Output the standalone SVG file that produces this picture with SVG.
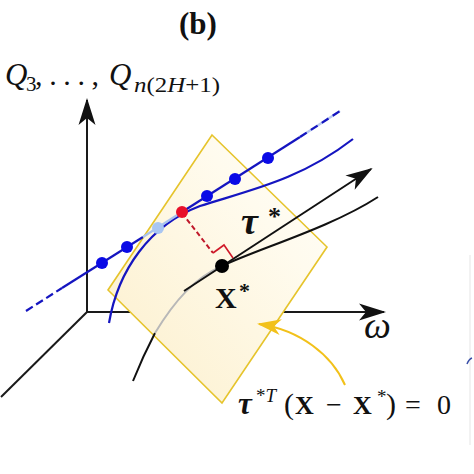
<svg xmlns="http://www.w3.org/2000/svg" width="474" height="474" viewBox="0 0 474 474">
<defs>
<linearGradient id="planeGrad" x1="1" y1="0" x2="0" y2="1">
<stop offset="0" stop-color="#fffefa"/>
<stop offset="0.3" stop-color="#fffbee"/>
<stop offset="1" stop-color="#fcefcb"/>
</linearGradient>
<marker id="arrBlack" markerUnits="userSpaceOnUse" markerWidth="40" markerHeight="30" viewBox="-30 -15 40 30" refX="0" refY="0" orient="auto">
<path d="M2,0 L-25,-8.5 L-18,0 L-25,8.5 Z" fill="#111"/>
</marker>
<marker id="arrYellow" markerUnits="userSpaceOnUse" markerWidth="40" markerHeight="30" viewBox="-30 -15 40 30" refX="0" refY="0" orient="auto">
<path d="M2,0 L-22,-8 L-15,0 L-22,8 Z" fill="#f2c11a"/>
</marker>
</defs>
<style>
.ax{stroke:#1a1a1a;stroke-width:2;fill:none}
.blue{stroke:#1515c0;stroke-width:2.2;fill:none}
.txt{font-family:"Liberation Serif","DejaVu Serif",serif;fill:#111}
</style>
<rect width="474" height="474" fill="#fff"/>
<g id="title"><text class="txt" x="198" y="34" font-size="31" font-weight="bold" text-anchor="middle">(b)</text></g>
<g id="axes">
<line class="ax" x1="87" y1="312" x2="87" y2="100" marker-end="url(#arrBlack)"/>
<line class="ax" x1="87" y1="312" x2="1" y2="397"/>
<line class="ax" x1="87" y1="312" x2="384" y2="312" marker-end="url(#arrBlack)"/>
</g>
<g id="plane">
<polygon points="212,135 327,247 222,403 108,290" fill="url(#planeGrad)" stroke="#e6c42c" stroke-width="1.6"/>
</g>
<g id="axis-labels">
<text class="txt" x="5" y="85" font-size="31" font-style="italic">Q</text>
<text class="txt" x="26" y="91" font-size="21">3</text>
<text class="txt" x="35" y="85" font-size="30" textLength="64" lengthAdjust="spacing">, . . . ,</text>
<text class="txt" x="109" y="85" font-size="31" font-style="italic">Q</text>
<text class="txt" x="134" y="92" font-size="22" textLength="86" lengthAdjust="spacingAndGlyphs"><tspan font-style="italic">n</tspan>(2<tspan font-style="italic">H</tspan>+1)</text>
<text class="txt" x="364" y="338" font-size="38" font-style="italic">ω</text>
</g>
<g id="connectors">
<path d="M133,381 Q143,356 155,333" stroke="#111" stroke-width="2" fill="none"/>
<path d="M155,333 C175,300 195,278 222,266" stroke="#b8b8b8" stroke-width="2" fill="none"/>
<path d="M222,266 C260,248 330,228 378,197" stroke="#111" stroke-width="2" fill="none"/>
<line x1="184" y1="291" x2="371" y2="169" stroke="#111" stroke-width="2" marker-end="url(#arrBlack)"/>
<path class="blue" d="M109,323 C118,270 150,225 200,206 C250,190 300,180 353,139"/>
<line class="blue" x1="26" y1="311" x2="62" y2="288" stroke-dasharray="8,4"/>
<line class="blue" x1="62" y1="288" x2="143" y2="237"/>
<line x1="143" y1="237" x2="182" y2="212" stroke="#a9c3ee" stroke-width="2.2"/>
<line class="blue" x1="182" y1="212" x2="300" y2="137"/>
<line x1="300" y1="137" x2="340" y2="111" stroke="#b8c8f0" stroke-width="2.2"/>
<line class="blue" x1="300" y1="137" x2="340" y2="111" stroke-dasharray="8,5"/>
<line x1="182" y1="213" x2="213" y2="253" stroke="#c0182a" stroke-width="2" stroke-dasharray="5,3"/>
<polyline points="213,253 224,245 233,258" fill="none" stroke="#d01a2a" stroke-width="1.6"/>
<path d="M345,385 C332,355 300,330 259,324" stroke="#f2c11a" stroke-width="2" fill="none" marker-end="url(#arrYellow)"/>
</g>
<g id="points">
<circle cx="102" cy="263" r="6" fill="#0a0ae6"/>
<circle cx="127" cy="247" r="6" fill="#0a0ae6"/>
<circle cx="158" cy="228" r="6" fill="#a9c6f2"/>
<circle cx="182" cy="212" r="6" fill="#e8102a"/>
<circle cx="207" cy="196" r="6" fill="#0a0ae6"/>
<circle cx="235" cy="179" r="6" fill="#0a0ae6"/>
<circle cx="268" cy="158" r="6" fill="#0a0ae6"/>
<circle cx="222" cy="266" r="7" fill="#000"/>
</g>
<g id="labels">
<text class="txt" x="241" y="234" font-size="38" font-weight="bold" font-style="italic">τ</text>
<text class="txt" x="268" y="225" font-size="26" font-weight="bold">*</text>
<text class="txt" x="215" y="308" font-size="30" font-weight="bold">X</text>
<text class="txt" x="239" y="298" font-size="22" font-weight="bold">*</text>
<text class="txt" x="238" y="414" font-size="31" font-weight="bold" font-style="italic">τ</text>
<text class="txt" x="256" y="402" font-size="19">*<tspan font-style="italic">T</tspan></text>
<text class="txt" x="284" y="414" font-size="30">(</text>
<text class="txt" x="295" y="414" font-size="26" font-weight="bold">X</text>
<text class="txt" x="326" y="414" font-size="28">−</text>
<text class="txt" x="353" y="414" font-size="26" font-weight="bold">X</text>
<text class="txt" x="377" y="403" font-size="19">*</text>
<text class="txt" x="386" y="414" font-size="30">)</text>
<text class="txt" x="405" y="414" font-size="28">=</text>
<text class="txt" x="437" y="414" font-size="28">0</text>
</g>
<g id="edge">
<line x1="470" y1="255" x2="470" y2="445" stroke="#eeeeee" stroke-width="1.5"/>
<path d="M467,364 Q469,359 472,358" stroke="#3a4fa8" stroke-width="1.5" fill="none"/>
</g>
</svg>
